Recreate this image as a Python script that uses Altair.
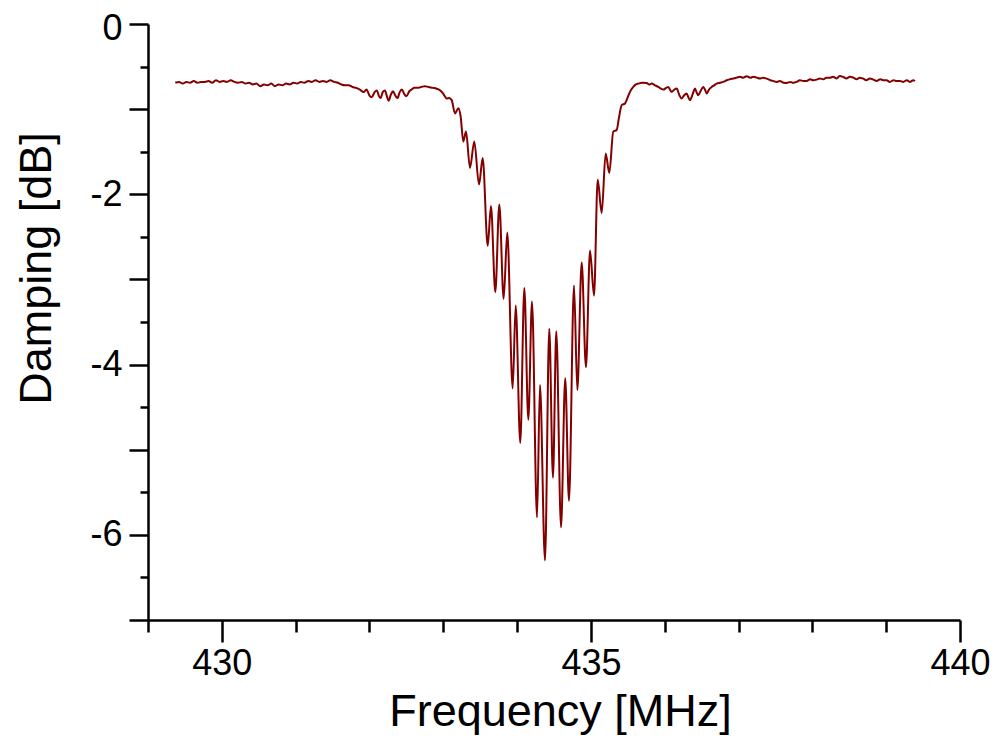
import altair as alt
import pandas as pd

# Frequency [MHz] values
freq = [
    429.37, 429.42, 429.47, 429.52, 429.57, 429.62, 429.67, 429.72, 429.77, 429.82,
    429.87, 429.92, 429.97, 430.02, 430.07, 430.12, 430.17, 430.22, 430.27, 430.32,
    430.37, 430.42, 430.47, 430.52, 430.57, 430.62, 430.67, 430.72, 430.77, 430.82,
    430.87, 430.92, 430.97, 431.02, 431.07, 431.12, 431.17, 431.22, 431.27, 431.32,
    431.37, 431.42, 431.47, 431.52, 431.57, 431.62, 431.67, 431.72, 431.77, 431.82,
    431.87, 431.92, 431.96, 432.00, 432.03, 432.07, 432.10, 432.13, 432.15, 432.18,
    432.21, 432.24, 432.26, 432.29, 432.32, 432.35, 432.38, 432.41, 432.44, 432.47,
    432.50, 432.54, 432.57, 432.61, 432.65, 432.70, 432.75, 432.80, 432.86, 432.91,
    432.96, 433.00, 433.046, 433.08, 433.114, 433.159, 433.204, 433.236, 433.271, 433.308,
    433.362, 433.420, 433.484, 433.534, 433.602, 433.646, 433.705, 433.759, 433.818, 433.867,
    433.940, 433.981, 434.043, 434.098, 434.152, 434.202, 434.270, 434.310, 434.378, 434.436,
    434.486, 434.531, 434.595, 434.652, 434.703, 434.771, 434.816, 434.875, 434.933, 434.988,
    435.042, 435.092, 435.146, 435.200, 435.249, 435.303, 435.349, 435.38, 435.417, 435.462,
    435.50, 435.529, 435.574, 435.61, 435.642, 435.70, 435.756, 435.79, 435.823, 435.87,
    435.913, 435.95, 435.981, 436.02, 436.048, 436.07, 436.094, 436.13, 436.162, 436.20,
    436.23, 436.26, 436.297, 436.32, 436.342, 436.38, 436.41, 436.43, 436.455, 436.49,
    436.522, 436.55, 436.568, 436.60, 436.636, 436.67, 436.704, 436.75, 436.793, 436.839,
    436.88, 436.93, 436.975, 437.02, 437.06, 437.110, 437.16, 437.20, 437.246, 437.29,
    437.33, 437.381, 437.43, 437.47, 437.517, 437.56, 437.61, 437.652, 437.70, 437.74,
    437.788, 437.83, 437.88, 437.923, 437.97, 438.01, 438.059, 438.10, 438.15, 438.19,
    438.240, 438.28, 438.33, 438.37, 438.419, 438.46, 438.51, 438.554, 438.60, 438.64,
    438.690, 438.73, 438.78, 438.825, 438.87, 438.92, 438.96, 439.007, 439.05, 439.10,
    439.14, 439.187, 439.23, 439.28, 439.32, 439.367, 439.39,
]

# Damping [dB] values
damping = [
    -0.69, -0.68, -0.70, -0.68, -0.69, -0.67, -0.69, -0.68, -0.68, -0.67,
    -0.69, -0.66, -0.68, -0.67, -0.68, -0.66, -0.68, -0.69, -0.68, -0.70,
    -0.69, -0.71, -0.70, -0.73, -0.71, -0.72, -0.70, -0.73, -0.71, -0.72,
    -0.70, -0.71, -0.69, -0.70, -0.68, -0.69, -0.67, -0.68, -0.66, -0.68,
    -0.67, -0.68, -0.66, -0.68, -0.69, -0.71, -0.72, -0.72, -0.74, -0.75,
    -0.77, -0.80, -0.77, -0.84, -0.86, -0.80, -0.78, -0.85, -0.87, -0.80,
    -0.78, -0.86, -0.90, -0.83, -0.79, -0.84, -0.87, -0.80, -0.77, -0.82,
    -0.85, -0.79, -0.77, -0.75, -0.75, -0.74, -0.73, -0.74, -0.75, -0.76,
    -0.78, -0.82, -0.875, -0.87, -0.894, -1.05, -0.99, -1.09, -1.38, -1.264,
    -1.69, -1.38, -1.886, -1.575, -2.605, -2.139, -3.15, -2.12, -3.228, -2.45,
    -4.28, -3.305, -4.92, -3.10, -4.647, -3.26, -5.795, -4.24, -6.30, -3.578,
    -5.328, -3.61, -5.91, -4.16, -5.60, -3.07, -4.30, -2.80, -4.03, -2.66,
    -3.19, -1.83, -2.22, -1.52, -1.75, -1.264, -1.245, -1.10, -0.953, -0.933,
    -0.86, -0.797, -0.739, -0.71, -0.70, -0.69, -0.692, -0.71, -0.70, -0.72,
    -0.739, -0.76, -0.77, -0.75, -0.739, -0.77, -0.797, -0.77, -0.758, -0.84,
    -0.875, -0.84, -0.817, -0.86, -0.894, -0.82, -0.758, -0.80, -0.836, -0.78,
    -0.739, -0.78, -0.817, -0.77, -0.739, -0.72, -0.70, -0.69, -0.68, -0.661,
    -0.65, -0.64, -0.63, -0.62, -0.63, -0.615, -0.63, -0.62, -0.63, -0.64,
    -0.63, -0.642, -0.66, -0.67, -0.68, -0.67, -0.69, -0.692, -0.68, -0.69,
    -0.68, -0.66, -0.67, -0.669, -0.65, -0.66, -0.653, -0.64, -0.65, -0.63,
    -0.63, -0.62, -0.64, -0.61, -0.622, -0.64, -0.62, -0.63, -0.65, -0.63,
    -0.642, -0.66, -0.64, -0.653, -0.67, -0.65, -0.66, -0.661, -0.68, -0.66,
    -0.67, -0.669, -0.68, -0.66, -0.68, -0.661, -0.67,
]

x_ticks = [429, 430, 431, 432, 433, 434, 435, 436, 437, 438, 439, 440]
y_ticks = [-7, -6.5, -6, -5.5, -5, -4.5, -4, -3.5, -3, -2.5, -2, -1.5, -1, -0.5, 0]

df = pd.DataFrame({"freq": freq, "damping": damping})

FONT = "Liberation Sans"

x_axis = alt.Axis(
    values=x_ticks,
    title="Frequency [MHz]",
    grid=False,
    domainColor="black",
    domainWidth=2.5,
    tickColor="black",
    tickWidth=2.5,
    tickSize={"condition": {"test": "datum.value % 5 === 0", "value": 22}, "value": 12},
    labelExpr="datum.value % 5 === 0 ? '' + datum.value : ''",
    labelFont=FONT,
    labelFontSize=36,
    labelColor="black",
    labelPadding=4,
    labelFlush=False,
    labelOverlap=False,
    titleFont=FONT,
    titleFontSize=45,
    titleFontWeight="normal",
    titleColor="black",
    titleBaseline="alphabetic",
    titleAlign="center",
    titleX=412,
    titleY=105,
)

y_axis = alt.Axis(
    values=y_ticks,
    title="Damping [dB]",
    grid=False,
    domainColor="black",
    domainWidth=2.5,
    tickColor="black",
    tickWidth=2.5,
    tickSize={"condition": {"test": "datum.value % 1 === 0", "value": 19}, "value": 8},
    labelExpr="datum.value % 2 === 0 ? '' + datum.value : ''",
    labelOffset={"condition": {"test": "datum.value === 0", "value": 4}, "value": 0},
    labelFont=FONT,
    labelFontSize=36,
    labelColor="black",
    labelPadding=7,
    labelFlush=False,
    labelOverlap=False,
    titleFont=FONT,
    titleFontSize=45,
    titleFontWeight="normal",
    titleColor="black",
    titleAngle=270,
    titleBaseline="alphabetic",
    titleAlign="center",
    titleX=-98,
    titleY=244,
)

chart = (
    alt.Chart(df)
    .mark_line(color="#840000", strokeWidth=2, interpolate="monotone")
    .encode(
        x=alt.X("freq:Q", scale=alt.Scale(domain=[429, 440], nice=False, zero=False), axis=x_axis),
        y=alt.Y("damping:Q", scale=alt.Scale(domain=[-7, 0], nice=False, zero=False), axis=y_axis),
    )
    .properties(
        width=812,
        height=596,
        autosize=alt.AutoSizeParams(type="none"),
        padding={"left": 140, "top": 16, "right": 32, "bottom": 117},
    )
    .configure_view(stroke=None)
)

chart.save("out.html", embed_options={"renderer": "svg", "actions": False})
